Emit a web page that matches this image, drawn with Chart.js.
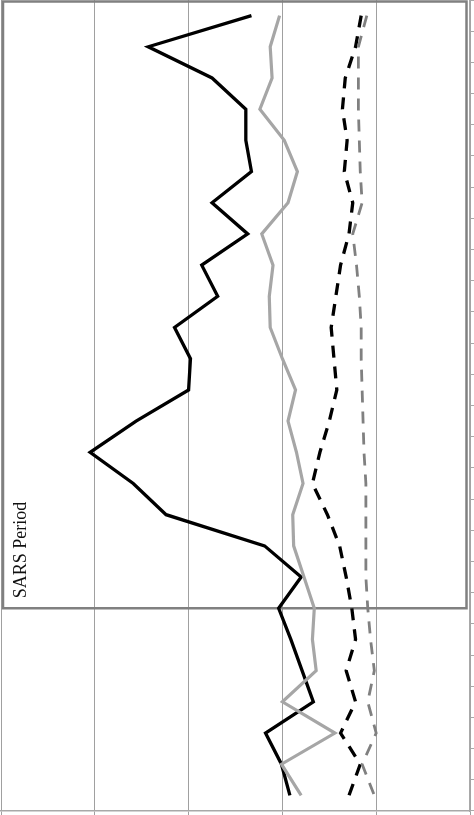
<!DOCTYPE html>
<html>
<head>
<meta charset="utf-8">
<script src="https://cdn.jsdelivr.net/npm/chart.js@4.4.1/dist/chart.umd.min.js"></script>
<style>
  html, body { margin: 0; padding: 0; background: #fff; }
  #wrap { width: 474px; height: 815px; }
</style>
</head>
<body>
<div id="wrap"><canvas id="c" width="474" height="815"></canvas></div>
<script>
const categories = Array.from({length: 26}, (_, i) => 'P' + (i + 1));
const seriesBlackSolid = [2.67, 1.57, 2.25, 2.61, 2.61, 2.67, 2.25, 2.63, 2.14, 2.31, 1.85, 2.02, 2.00, 1.44, 0.95, 1.41, 1.76, 2.81, 3.20, 2.96, 3.09, 3.21, 3.33, 2.82, 2.99, 3.08];
const seriesGraySolid = [2.97, 2.87, 2.89, 2.76, 3.02, 3.16, 3.06, 2.78, 2.90, 2.86, 2.87, 3.00, 3.14, 3.06, 3.15, 3.22, 3.11, 3.12, 3.23, 3.34, 3.32, 3.36, 3.00, 3.56, 2.99, 3.20];
const seriesBlackDashed = [3.84, 3.78, 3.67, 3.64, 3.69, 3.66, 3.75, 3.71, 3.62, 3.57, 3.52, 3.55, 3.58, 3.50, 3.40, 3.32, 3.48, 3.61, 3.68, 3.74, 3.78, 3.68, 3.78, 3.62, 3.83, 3.71];
const seriesGrayDashed = [3.90, 3.81, 3.81, 3.81, 3.82, 3.83, 3.85, 3.75, 3.79, 3.82, 3.84, 3.84, 3.85, 3.86, 3.87, 3.89, 3.89, 3.89, 3.89, 3.91, 3.94, 3.98, 3.91, 4.00, 3.85, 3.98];
const sarsLabel = 'SARS Period';
const sarsEndIndex = 19;
const valueMin = 0, valueMax = 5, valueStep = 1;

const sarsBox = {
  id: 'sarsBox',
  beforeDatasetsDraw(chart) {
    const {ctx, chartArea, scales} = chart;
    const bottom = scales.y.getPixelForValue(sarsEndIndex);
    const left = chartArea.left + 2;
    const top = chartArea.top + 1.5;
    const right = chartArea.right - 3.5;
    ctx.save();
    ctx.strokeStyle = '#808080';
    ctx.lineWidth = 2.5;
    ctx.strokeRect(left, top, right - left, bottom - top);
    ctx.translate(chartArea.left + 25, bottom - 10);
    ctx.rotate(-Math.PI / 2);
    ctx.fillStyle = '#111';
    ctx.font = '18px "Liberation Serif", "DejaVu Serif", serif';
    ctx.textAlign = 'left';
    ctx.textBaseline = 'alphabetic';
    ctx.fillText(sarsLabel, 0, 0);
    ctx.restore();
  }
};

new Chart(document.getElementById('c'), {
  type: 'line',
  data: {
    labels: categories,
    datasets: [
      { data: seriesGraySolid, borderColor: '#a6a6a6', borderWidth: 3.2 },
      { data: seriesGrayDashed, borderColor: '#808080', borderWidth: 2.8, borderDash: [12, 9] },
      { data: seriesBlackDashed, borderColor: '#000000', borderWidth: 3.3, borderDash: [12, 9] },
      { data: seriesBlackSolid, borderColor: '#000000', borderWidth: 3.3 }
    ]
  },
  options: {
    indexAxis: 'y',
    responsive: false,
    animation: false,
    devicePixelRatio: 1,
    layout: { autoPadding: false, padding: { left: 1, top: 0, right: 0, bottom: 0 } },
    elements: { point: { radius: 0 }, line: { tension: 0, fill: false, borderJoinStyle: 'miter' } },
    plugins: { legend: { display: false }, tooltip: { enabled: false } },
    scales: {
      x: {
        type: 'linear',
        position: 'bottom',
        min: valueMin, max: valueMax,
        ticks: { display: false, stepSize: valueStep },
        grid: { color: '#a0a0a0', lineWidth: 1, tickLength: 4, drawTicks: true },
        border: { color: '#a8a8a8', width: 1.5 }
      },
      y: {
        type: 'category',
        position: 'right',
        offset: true,
        ticks: { display: false },
        grid: { drawOnChartArea: false, color: '#a8a8a8', tickLength: 4, offset: true },
        border: { color: '#a8a8a8', width: 1.5 }
      }
    }
  },
  plugins: [sarsBox]
});
</script>
</body>
</html>
